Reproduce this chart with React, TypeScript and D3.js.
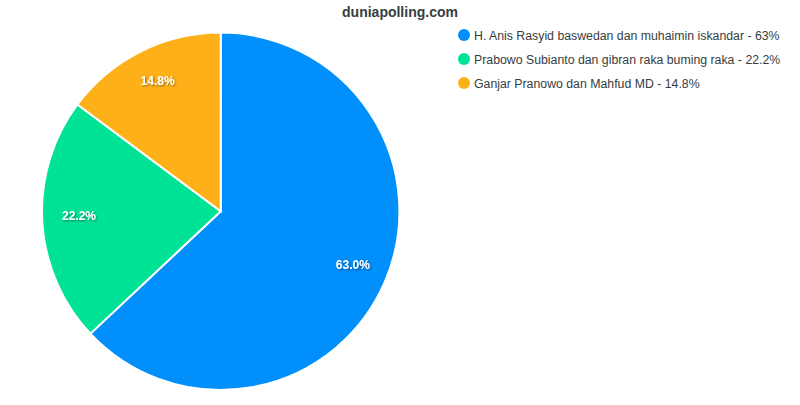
import React from "react";
import * as d3 from "d3";

const labels = [
  "H. Anis Rasyid baswedan dan muhaimin iskandar",
  "Prabowo Subianto dan gibran raka buming raka",
  "Ganjar Pranowo dan Mahfud MD",
];
const legendValues = ["63%", "22.2%", "14.8%"];
const values = [63, 22.2, 14.8];
const colors = ["#008FFB", "#00E396", "#FEB019"];

const width = 800;
const height = 405;
const cx = 220.7;
const cy = 211.3;
const radius = 178.7;

export default function App() {
  const pie = d3.pie<number>().sort(null).value((d) => d);
  const arcs = pie(values);
  const arc = d3.arc<d3.PieArcDatum<number>>().innerRadius(0).outerRadius(radius);
  const labelArc = d3
    .arc<d3.PieArcDatum<number>>()
    .innerRadius(radius * 0.8)
    .outerRadius(radius * 0.8);
  const total = d3.sum(values);
  const font = "'Liberation Sans', Arial, Helvetica, sans-serif";

  return (
    <div style={{ position: "fixed", left: 0, top: 0 }}>
      <svg width={width} height={height} style={{ display: "block", fontFamily: font }}>
        <defs>
          <filter id="shadow" x="-20%" y="-20%" width="140%" height="140%">
            <feDropShadow dx="1" dy="1" stdDeviation="1" floodColor="#000" floodOpacity="0.45" />
          </filter>
        </defs>
        <rect width={width} height={height} fill="#fff" />
        <text
          x={400}
          y={17}
          textAnchor="middle"
          fontSize={14}
          fontWeight="bold"
          fill="#373d3f"
        >
          duniapolling.com
        </text>
        <g transform={`translate(${cx},${cy})`}>
          {arcs.map((a, i) => (
            <path key={i} d={arc(a) || ""} fill={colors[i]} stroke="#fff" strokeWidth={2} />
          ))}
          {arcs.map((a, i) => {
            const [lx, ly] = labelArc.centroid(a);
            return (
              <text
                key={"l" + i}
                x={lx + 1}
                y={ly + 1}
                textAnchor="middle"
                fontSize={12}
                fontWeight="bold"
                fill="#fff"
                filter="url(#shadow)"
              >
                {((values[i] / total) * 100).toFixed(1)}%
              </text>
            );
          })}
        </g>
        <g>
          {labels.map((l, i) => (
            <g key={i} transform={`translate(464,${35 + i * 24})`}>
              <circle r={6} fill={colors[i]} />
              <text x={10} y={4.5} fontSize={12.3} fill="#373d3f">
                {l} - {legendValues[i]}
              </text>
            </g>
          ))}
        </g>
      </svg>
    </div>
  );
}
